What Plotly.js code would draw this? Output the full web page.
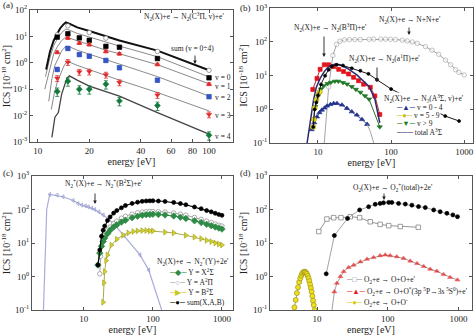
<!DOCTYPE html>
<html><head><meta charset="utf-8">
<script src="https://cdn.plot.ly/plotly-3.0.1.min.js"></script>
<style>html,body{margin:0;padding:0;background:#fff}#chart{width:474px;height:335px}</style>
</head><body><div id="chart"></div>
<script>
// ===== Panel (a): N2(X)+e -> N2(C3Pi, v)+e' =====
const aE = [13, 15, 17.5, 20, 25, 30, 50, 100];
const aV0 = [9.4, 12.6, 8.8, 7.1, 4.2, 3.9, 1.45, 0.27];
const aV1 = [2.5, 8.7, 5.6, 4.9, 2.7, 2.2, 0.87, 0.155];
const aV2 = [0.56, 3.5, 2.05, 1.78, 1.23, 0.65, 0.22, 0.052];
const aV3 = [0.26, 1.06, 0.45, 0.46, 0.35, 0.18, 0.06, 0.011];
const aV4 = [0.082, 0.2, 0.1, 0.1, 0.155, 0.036, 0.024, 0.0018];
const aSumE = [13, 15, 20, 25, 50, 100];
const aSum = [11.5, 25, 14, 8.6, 2.7, 0.52];
const aLineSumE = [11.2, 11.8, 12.4, 12.9, 13.5, 14.1, 14.6, 15.4, 17, 20, 25, 30, 50, 100];
const aLineSum  = [0.56, 2.7, 7, 11.5, 20, 28, 34, 30, 22, 16, 10, 7, 2.9, 0.52];
const aLine0E = [11.1, 11.8, 12.4, 13, 13.8, 14.6, 15.4, 17, 20, 25, 30, 50, 100];
const aLine0  = [0.3, 1.6, 4.5, 8, 14, 19, 17, 13, 9.5, 6, 4.3, 1.7, 0.29];
const aLine1E = [11.0, 11.8, 12.4, 13, 13.8, 14.6, 15.4, 17, 20, 25, 30, 50, 100];
const aLine1  = [0.1, 0.7, 2.2, 4, 7, 9.5, 8.5, 6.5, 4.8, 3, 2.2, 0.85, 0.16];
const aLine2E = [11.6, 12.1, 12.6, 13.2, 13.8, 14.6, 15.4, 17, 20, 25, 30, 50, 100];
const aLine2  = [0.035, 0.25, 0.8, 1.6, 2.8, 4.3, 4.0, 3.0, 2.1, 1.3, 0.9, 0.3, 0.055];
const aLine3E = [12.0, 12.5, 13, 13.6, 14.2, 14.8, 15.4, 17, 20, 25, 30, 50, 100];
const aLine3  = [0.017, 0.07, 0.18, 0.4, 0.75, 1.1, 1.05, 0.8, 0.55, 0.33, 0.22, 0.075, 0.015];
const aLine4E = [12.1, 12.6, 13.2, 13.8, 14.8, 15.3, 17, 20, 30, 50, 100];
const aLine4  = [0.0015, 0.0087, 0.013, 0.065, 0.26, 0.32, 0.22, 0.13, 0.055, 0.013, 0.002];
const aXTicks = [10, 20, 40, 60, 80, 100];
const logXTicks = [10, 100, 1000];
const aYExp = [-3, -2, -1, 0, 1, 2];
const bYExp = [-1, 0, 1, 2, 3];

// ===== Panel (b) =====
const bNNE = [12.2, 14, 16, 18, 20, 23, 27, 32, 38, 50, 58, 72, 84, 98, 115, 142, 166, 195, 228, 295, 363, 448, 555, 650, 760, 845, 1000];
const bNN  = [0.1, 4.6, 40, 85, 105, 115, 118, 118, 118, 120, 122, 122, 122, 120, 118, 113, 107, 100, 91, 73, 57, 43, 29, 21, 15, 12.5, 10.5];
const bAE = [8.6, 9, 9.5, 10, 11, 12.5, 14, 15.5, 18, 22, 29, 38, 49, 64, 100, 550, 850];
const bA  = [0.3, 1.0, 1.6, 2.6, 5.5, 10, 15, 18.6, 21, 20, 16.6, 14, 11.3, 7.6, 4.0, 0.63, 0.45];
const bBE = [8.5, 9.7, 10.7, 12.2, 14, 16.4, 19.2, 22.4, 26.2, 30.7, 35.9, 42, 52, 60, 70];
const bB  = [3.9, 8.3, 15.4, 21, 21, 18.6, 15.4, 13.2, 11.2, 8.9, 7.1, 5.6, 4.5, 2.5, 0.7];
const bV9E = [8.7, 9.2, 10, 11, 12, 13.5, 15, 17, 19, 22, 25, 29, 33, 38, 44, 50, 70];
const bV9  = [0.49, 1.2, 2.5, 4, 5, 5.8, 6.3, 6.8, 6.8, 6.2, 5.6, 4.7, 3.9, 3.2, 2.5, 2.0, 0.3];
const bV04E = [8.2, 8.9, 9.7, 10.5, 11.3, 12.3, 13.3, 14.8, 16.4, 18.2, 21.3, 24.9, 29, 34, 40, 47];
const bV04  = [0.25, 0.4, 0.6, 0.8, 0.95, 1.1, 1.26, 1.4, 1.5, 1.5, 1.35, 1.07, 0.85, 0.68, 0.5, 0.36];
const bV04TailE = [47, 52, 58];
const bV04Tail  = [0.36, 0.22, 0.1];
const bV59E = [8.6, 8.8, 9, 9.5, 10, 10.6];
const bV59  = [0.3, 0.5, 1.1, 1.9, 2.7, 3.3];
const bTotE = [7.1, 8, 8.7, 9.5, 10.7, 12, 13.3, 15, 17.3, 20, 25, 34, 42, 50, 60, 70];
const bTot  = [0.1, 0.6, 1.9, 4.5, 8.3, 12.5, 16.6, 20, 22, 21, 16.6, 10.5, 6.6, 4.8, 2.0, 0.4];

// ===== Panel (c) =====
const cBLineE = [2.6, 2.75, 2.9, 3.2, 5, 7, 9.3, 11.6, 14.4, 19.1, 26.6, 38, 65, 87, 134];
const cBLine  = [0.1, 5, 100, 283, 240, 186, 136, 120, 100, 69, 39, 16.7, 4.4, 1.56, 0.1];
const cBPtsE = [3.2, 4.1, 5, 7, 8.2, 9.3, 10.5, 11.6, 13, 14.4, 16.5, 19.1, 26.6, 38, 65, 87];
const cBPts  = [283, 270, 240, 186, 150, 136, 128, 120, 110, 100, 85, 69, 39, 16.7, 4.4, 1.56];
const cXE = [16, 17, 18, 19, 20, 22, 24, 27, 30, 35, 40, 50, 60, 70, 80, 90, 100, 120, 150, 200, 250, 300, 400, 500, 600, 700, 800, 900, 1000];
const cX  = [2.2, 5, 8, 11, 14, 19, 24, 30, 35, 42, 48, 57, 63, 67, 70, 71, 72, 71, 69, 64, 59, 54, 46, 41, 36, 33, 30, 28, 26];
const cAE = [17, 17.5, 18, 19, 20, 22, 24, 27, 30, 35, 40, 50, 60, 70, 80, 90, 100, 120, 150, 200, 250, 300, 400, 500, 600, 700, 800, 900, 1000];
const cA  = [1.2, 4, 8, 13, 17, 24, 30, 38, 45, 55, 63, 73, 80, 84, 86, 87, 87, 86, 84, 79, 73, 68, 58, 51, 45, 41, 37, 34, 32];
const cB2E = [19, 19.5, 20, 21, 22, 25, 30, 37, 44, 52, 60, 70, 80, 90, 100, 150, 200, 300, 400, 500, 600, 700, 800, 900, 1000];
const cB2  = [0.17, 0.65, 1.4, 3.0, 4.4, 8.7, 13, 17, 20, 22, 23, 23.5, 23.5, 23, 23, 21, 20, 17, 15, 13.5, 12, 11, 10, 9.3, 8.7];
const cSumE = [16, 17, 18, 19, 20, 22, 24, 27, 30, 35, 40, 50, 60, 70, 80, 90, 100, 120, 150, 200, 250, 300, 400, 500, 600, 700, 800, 900, 1000];
const cSum  = [2.2, 6.2, 16, 24, 32, 47, 60, 78, 93, 112, 131, 152, 166, 175, 180, 181, 182, 179, 174, 163, 150, 139, 119, 106, 93, 85, 77, 71, 67];

// ===== Panel (d) =====
const dOOE = [10.6, 13.8, 17.2, 21.8, 29.5, 40, 56.6, 78, 103, 150, 270];
const dOO  = [22, 52, 57, 57, 61, 57, 43, 36, 33, 31, 29.5];
const dIonE = [13.5, 17.6, 27, 40, 53.6, 66.5, 78, 87, 103, 114, 142, 177, 219, 272, 339, 445, 550, 684, 832, 966];
const dIon  = [1.2, 16.7, 54, 97, 121, 143, 152, 158, 163, 163, 152, 145, 135, 122, 114, 97, 86, 77, 69, 61];
const dOstE = [16.3, 17.6, 19.1, 21.4, 23.8, 28, 33, 41, 51, 63, 78, 92, 108, 134, 167, 208, 259, 322, 398, 494, 613, 760, 966];
const dOst  = [0.1, 0.35, 0.63, 1.0, 1.4, 1.86, 2.2, 2.75, 3.3, 3.7, 4.2, 4.4, 4.2, 3.9, 3.5, 2.9, 2.45, 2.0, 1.65, 1.44, 1.15, 0.94, 0.79];
const dAttE = [4.8, 5.0, 5.2, 5.4, 5.6, 5.8, 6.0, 6.2, 6.4, 6.6, 6.8, 7.0, 7.2, 7.4, 7.6, 7.8, 8.0, 8.2, 8.4, 8.6, 8.8, 9.0, 9.3];
const dAtt  = [0.12, 0.2, 0.32, 0.48, 0.68, 0.88, 1.07, 1.23, 1.34, 1.39, 1.38, 1.31, 1.2, 1.05, 0.89, 0.73, 0.58, 0.45, 0.35, 0.26, 0.19, 0.14, 0.1];

const SERIF = 'Liberation Serif, Times New Roman, serif';
const W = 474, H = 335;
const px = x => x / W, py = y => 1 - y / H;

function ln(x, y, ax, color, width) {
  return {x, y, xaxis: 'x' + ax, yaxis: 'y' + ax, mode: 'lines', type: 'scatter',
    line: {color, width: width || 1}, hoverinfo: 'skip', showlegend: false};
}
function mk(x, y, ax, symbol, color, size, lineColor, opts) {
  const t = {x, y, xaxis: 'x' + ax, yaxis: 'y' + ax, mode: 'markers', type: 'scatter',
    marker: {symbol, color, size: size || 4, line: {color: lineColor || color, width: 0.7}},
    hoverinfo: 'skip', showlegend: false};
  return Object.assign(t, opts || {});
}
function lm(x, y, ax, symbol, mcolor, size, lcolor, lwidth, mline) {
  return {x, y, xaxis: 'x' + ax, yaxis: 'y' + ax, mode: 'lines+markers', type: 'scatter',
    line: {color: lcolor, width: lwidth || 0.9},
    marker: {symbol, color: mcolor, size: size || 4, line: {color: mline || mcolor, width: 0.7}},
    hoverinfo: 'skip', showlegend: false};
}
function err(pct, color) { return {error_y: {type: 'percent', value: pct, color, thickness: 0.8, width: 2}}; }

const traces = [
  // (a)
  ln(aLine0E, aLine0, '', '#8a8a8a', 1),
  ln(aLine1E, aLine1, '', '#8a8a8a', 1),
  ln(aLine2E, aLine2, '', '#8a8a8a', 1),
  ln(aLine3E, aLine3, '', '#8a8a8a', 1),
  ln(aLine4E, aLine4, '', '#444', 1.3),
  ln(aLineSumE, aLineSum, '', '#111', 2),
  mk(aSumE, aSum, '', 'circle', '#fff', 4.5, '#777'),
  mk(aE, aV0, '', 'square', '#000', 4.5, '#000', err(10, '#000')),
  mk(aE, aV1, '', 'triangle-up', '#e02828', 4.5, '#e02828', err(12, '#e02828')),
  mk(aE, aV2, '', 'square', '#3456c4', 4.5, '#3456c4', err(15, '#3456c4')),
  mk(aE, aV3, '', 'triangle-down', '#e02828', 4.5, '#e02828', err(25, '#e02828')),
  mk(aE, aV4, '', 'diamond', '#127a3c', 4.5, '#127a3c', err(35, '#127a3c')),
  // (b)
  Object.assign(lm(bNNE, bNN, 2, 'circle', '#fff', 4.5, '#9a9a9a', 0.9, '#8a8a8a'),
    {marker: {symbol: 'circle', color: '#fff', size: bNNE.map((e, i) => i === 0 ? 0 : 4.5), line: {color: '#8a8a8a', width: 0.7}}}),
  lm(bV04E, bV04, 2, 'triangle-up', '#23328c', 4.5, '#23328c'),
  ln(bV04TailE, bV04Tail, 2, '#9a9a9a', 0.9),
  lm(bV9E, bV9, 2, 'triangle-down', '#1c7a22', 4.5, '#1c5a22'),
  lm(bBE, bB, 2, 'square', '#e4141c', 4, '#b01010'),
  ln(bTotE, bTot, 2, '#2a2a72', 1.5),
  lm(bV59E, bV59, 2, 'circle', '#f2e424', 5, '#999', 0.9, '#a09a20'),
  lm(bAE, bA, 2, 'circle', '#000', 3, '#000'),
  // (c)
  ln(cBLineE, cBLine, 3, '#a8acd8', 1.2),
  mk(cBPtsE, cBPts, 3, 'triangle-left-open', '#8e94c8', 3.5, '#8e94c8'),
  lm(cB2E, cB2, 3, 'triangle-right', '#d4d430', 5, '#a0a030', 0.9, '#a4a420'),
  lm(cAE, cA, 3, 'circle', '#fff', 4.5, '#9a9a9a', 0.9, '#8a8a8a'),
  lm(cXE, cX, 3, 'diamond', '#2e8b45', 5, '#1f6a30'),
  lm(cSumE, cSum, 3, 'circle', '#000', 4, '#000', 1.1),
  // (d)
  lm(dOOE, dOO, 4, 'square', '#fff', 4.5, '#8a8a8a', 0.9, '#777'),
  lm(dIonE, dIon, 4, 'circle', '#000', 4, '#999'),
  Object.assign(lm(dOstE, dOst, 4, 'triangle-up', '#e81818', 4.5, '#999'),
    {marker: {symbol: 'triangle-up', color: '#e81818', size: dOstE.map((e, i) => i === 0 ? 0 : 4.5), line: {color: '#e81818', width: 0.5}}}),
  lm(dAttE, dAtt, 4, 'circle', '#f0e018', 5, '#999', 0.9, '#9a9020'),
];

const tfont = {family: SERIF, size: 10, color: '#222'};
const axBase = {
  type: 'log', showline: true, linecolor: '#555', linewidth: 1, mirror: 'ticks',
  ticks: 'inside', ticklen: 3, tickcolor: '#555', showgrid: false, zeroline: false,
  tickfont: {family: SERIF, size: 9, color: '#222'}
};
function xax(domain, range, anchor, ticks) {
  return Object.assign({}, axBase, {domain, range, anchor,
    tickvals: ticks, ticktext: ticks.map(String),
    title: {text: 'energy [eV]', font: tfont, standoff: 3}});
}
function yax(domain, range, anchor, exps) {
  return Object.assign({}, axBase, {domain, range, anchor,
    tickvals: exps.map(e => Math.pow(10, e)),
    ticktext: exps.map(e => '10<sup>' + e + '</sup>'),
    title: {text: 'ICS [10<sup>-18</sup> cm<sup>2</sup>]', font: tfont, standoff: 3}});
}

const afont = {family: SERIF, size: 7.5, color: '#222'};
function txt(x, y, text, xanchor, extra) {
  return Object.assign({xref: 'paper', yref: 'paper', x: px(x), y: py(y), text, showarrow: false,
    xanchor: xanchor || 'center', yanchor: 'middle', font: afont, borderpad: 0}, extra || {});
}
function arrow(x, yTip, len) {
  return {xref: 'paper', yref: 'paper', x: px(x), y: py(yTip), ax: 0, ay: -len, text: '', showarrow: true,
    arrowhead: 2, arrowsize: 0.8, arrowwidth: 0.9, arrowcolor: '#222'};
}
const lblFont = {family: SERIF, size: 9, color: '#222'};

const annotations = [
  txt(8, 5, '(a)', 'center', {font: lblFont}),
  txt(245, 8, '(b)', 'center', {font: lblFont}),
  txt(8, 173, '(c)', 'center', {font: lblFont}),
  txt(245, 173, '(d)', 'center', {font: lblFont}),
  // (a)
  txt(184, 17, 'N<sub>2</sub>(X)+e → N<sub>2</sub>(C<sup>3</sup>Π, v)+e\''),
  txt(192, 48, 'sum (v = 0÷4)'),
  arrow(195, 64, 10),
  txt(214, 77, 'v = 0', 'left'),
  txt(214, 86, 'v = 1', 'left'),
  txt(214, 97, 'v = 2', 'left'),
  txt(214, 115, 'v = 3', 'left'),
  txt(214, 136, 'v = 4', 'left'),
  // (b)
  txt(330, 27, 'N<sub>2</sub>(X)+e → N<sub>2</sub>(B<sup>3</sup>Π)+e\''),
  arrow(324, 57, 22),
  txt(410, 20, 'N<sub>2</sub>(X)+e → N+N+e\''),
  arrow(409, 35, 9),
  txt(384, 59, 'N<sub>2</sub>(X)+e → N<sub>2</sub>(a<sup>1</sup>Π)+e\''),
  arrow(377, 82, 16),
  txt(424, 98, 'N<sub>2</sub>(X)+e → N<sub>2</sub>(A<sup>3</sup>Σ, v)+e\'', 'center', {bgcolor: '#fff'}),
  txt(395, 107, '<span style="color:#23328c">─▲─</span> v = 0 - 4', 'left', {bgcolor: '#fff'}),
  txt(395, 115, '<span style="color:#c8bc10">─●─</span> v = 5 - 9', 'left', {bgcolor: '#fff'}),
  txt(395, 123, '<span style="color:#1c7a22">─▼─</span> v > 9', 'left', {bgcolor: '#fff'}),
  txt(395, 132, '<span style="color:#2a2a72">───</span> total A<sup>3</sup>Σ', 'left', {bgcolor: '#fff'}),
  // (c)
  txt(104, 183, 'N<sub>2</sub><sup>+</sup>(X)+e → N<sub>2</sub><sup>+</sup>(B<sup>2</sup>Σ)+e\''),
  arrow(95, 204, 12),
  txt(193, 261, 'N<sub>2</sub>(X)+e → N<sub>2</sub><sup>+</sup>(Y)+2e\''),
  txt(168, 272, '<span style="color:#2e8b45">─◆─</span> Y = X<sup>2</sup>Σ', 'left'),
  txt(168, 282, '<span style="color:#9a9a9a">─○─</span> Y = A<sup>2</sup>Π', 'left'),
  txt(168, 292, '<span style="color:#c8c820">─▶─</span> Y = B<sup>2</sup>Σ', 'left'),
  txt(168, 302, '<span style="color:#000">─●─</span> sum(X,A,B)', 'left'),
  // (d)
  txt(393, 187, 'O<sub>2</sub>(X)+e → O<sub>2</sub><sup>+</sup>(total)+2e\''),
  arrow(384, 200, 8),
  txt(345, 280, '<span style="color:#8a8a8a">─□─</span> O<sub>2</sub>+e → O+O+e\'', 'left'),
  txt(345, 291, '<span style="color:#e81818">─▲─</span> O<sub>2</sub>+e → O+O<sup>*</sup>(3p <sup>5</sup>P→3s <sup>5</sup>S<sup>0</sup>)+e\'', 'left'),
  txt(345, 302, '<span style="color:#d8c810">─●─</span> O<sub>2</sub>+e → O+O<sup>-</sup>', 'left'),
];

const layout = {
  width: W, height: H, margin: {l: 0, r: 0, t: 0, b: 0}, autosize: false,
  paper_bgcolor: '#fff', plot_bgcolor: '#fff', showlegend: false,
  font: {family: SERIF, color: '#222'},
  xaxis: xax([px(30), px(233)], [0.955, 2.14], 'y', aXTicks),
  yaxis: yax([py(142), py(10)], [-3, 2], 'x', aYExp),
  xaxis2: xax([px(270), px(473)], [0.344, 3.12], 'y2', logXTicks),
  yaxis2: yax([py(143), py(8.3)], [-1, 3], 'x2', bYExp),
  xaxis3: xax([px(32), px(233)], [0.249, 3.16], 'y3', logXTicks),
  yaxis3: yax([py(310), py(176)], [-1, 3], 'x3', bYExp),
  xaxis4: xax([px(270), px(472)], [0.336, 3.19], 'y4', logXTicks),
  yaxis4: yax([py(310), py(176)], [-1, 3], 'x4', bYExp),
  annotations
};
Plotly.newPlot('chart', traces, layout, {staticPlot: true, displayModeBar: false});
</script></body></html>
